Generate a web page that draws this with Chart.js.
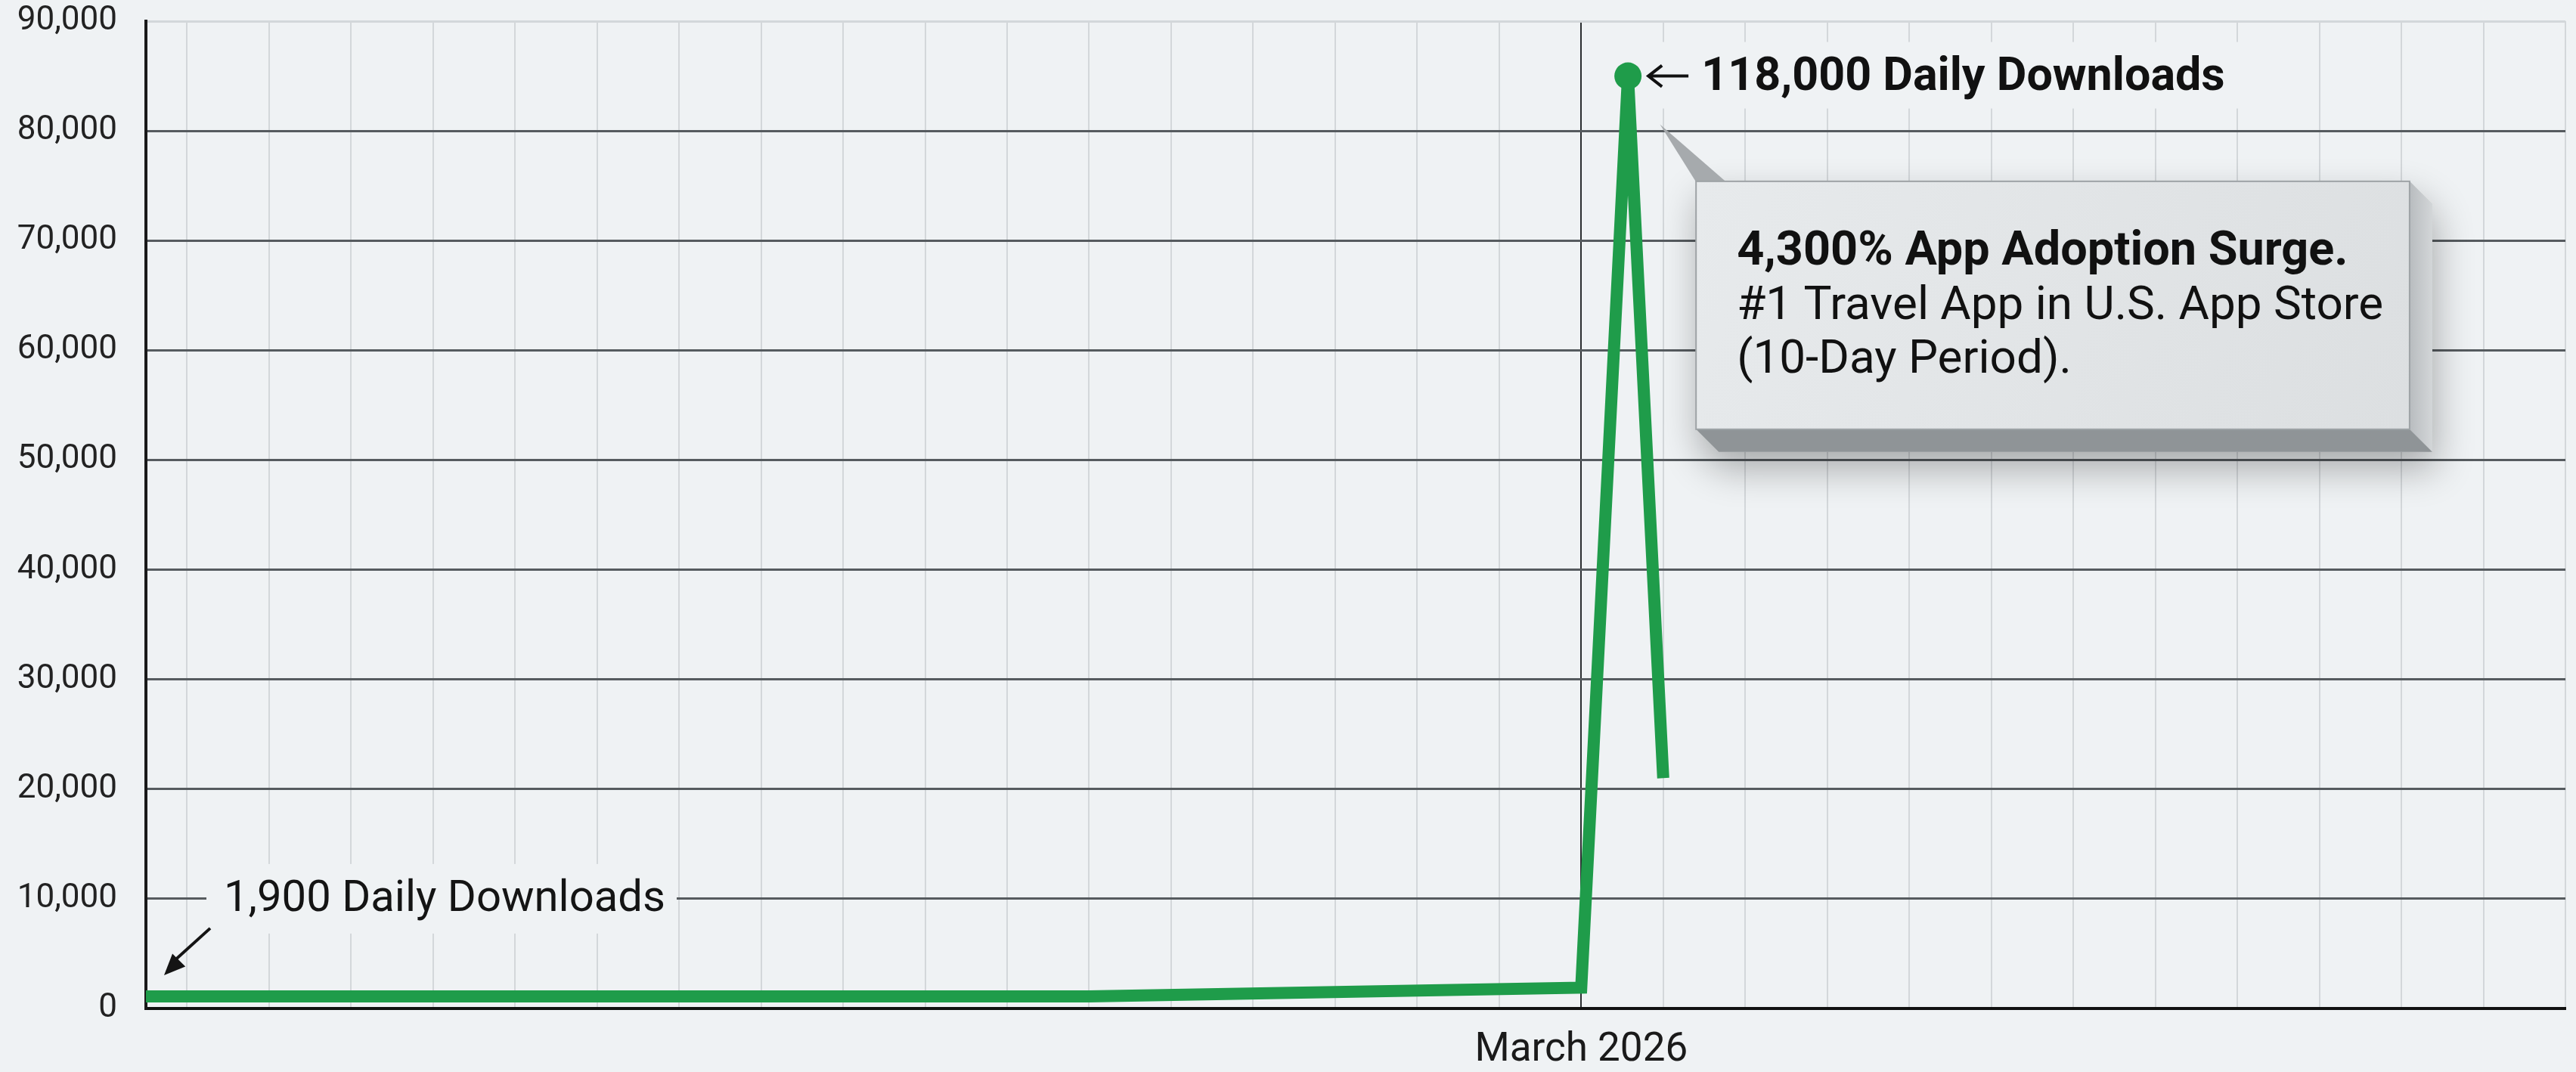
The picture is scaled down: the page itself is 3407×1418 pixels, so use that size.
<!DOCTYPE html>
<html>
<head>
<meta charset="utf-8">
<title>Daily Downloads</title>
<script src="https://cdn.jsdelivr.net/npm/chart.js@4.4.1/dist/chart.umd.min.js"></script>
<style>
  html, body { margin: 0; padding: 0; background: #eff2f4; }
  canvas { display: block; }
</style>
</head>
<body>
<canvas id="downloadsChart" width="3407" height="1418"></canvas>
<script>
// x = days relative to 1 March 2026
var dayOffsets = [-17.5, -6, 0, 0.57, 1];
var dailyDownloads = [1100, 1100, 1900, 85000, 21000];

var gridDays = [-17, -16, -15, -14, -13, -12, -11, -10, -9, -8, -7, -6, -5, -4, -3, -2, -1,
                0, 1, 2, 3, 4, 5, 6, 7, 8, 9, 10, 11, 12];
var yTicks = [0, 10000, 20000, 30000, 40000, 50000, 60000, 70000, 80000, 90000];

var marchLabel = 'March 2026';
var lowLabel = '1,900 Daily Downloads';
var peakLabel = '118,000 Daily Downloads';
var calloutLines = ['4,300% App Adoption Surge.', '#1 Travel App in U.S. App Store', '(10-Day Period).'];

var green = '#1f9c4a';
var bg = '#eff2f4';

Chart.defaults.font.family = 'Roboto, "Open Sans", sans-serif';
Chart.defaults.color = '#222';

function arrowHead(ctx, tipX, tipY, fromX, fromY, len, half) {
    var ang = Math.atan2(tipY - fromY, tipX - fromX);
    ctx.beginPath();
    ctx.moveTo(tipX, tipY);
    ctx.lineTo(tipX - len * Math.cos(ang) + half * Math.sin(ang), tipY - len * Math.sin(ang) - half * Math.cos(ang));
    ctx.lineTo(tipX - len * Math.cos(ang) - half * Math.sin(ang), tipY - len * Math.sin(ang) + half * Math.cos(ang));
    ctx.closePath();
    ctx.fill();
}

var annotations = {
    id: 'annotations',
    afterDatasetsDraw: function(chart) {
        var ctx = chart.ctx;
        var xs = chart.scales.x, ys = chart.scales.y;
        var area = chart.chartArea;
        ctx.save();

        // low label on the 10,000 line
        var yTen = ys.getPixelForValue(10000);
        var yZero = ys.getPixelForValue(0);
        ctx.fillStyle = bg;
        ctx.fillRect(area.left + 80, yTen - 46, 622, 92);
        ctx.fillStyle = '#141414';
        ctx.font = '58px Roboto';
        ctx.textBaseline = 'middle';
        ctx.fillText(lowLabel, area.left + 103, yTen + 2);
        ctx.strokeStyle = '#141414';
        ctx.lineWidth = 4;
        ctx.beginPath();
        ctx.moveTo(area.left + 85, yTen + 39);
        ctx.lineTo(area.left + 34, yZero - 60);
        ctx.stroke();
        arrowHead(ctx, area.left + 24, yZero - 44, area.left + 85, yTen + 39, 28, 12);

        // peak label
        var peak = chart.getDatasetMeta(0).data[3];
        ctx.fillStyle = bg;
        ctx.fillRect(peak.x + 22, peak.y - 45, 800, 88);
        ctx.fillStyle = '#111';
        ctx.font = 'bold 61px Roboto';
        ctx.fillText(peakLabel, peak.x + 97, peak.y + 3);
        ctx.strokeStyle = '#111';
        ctx.lineWidth = 4;
        ctx.beginPath();
        ctx.moveTo(peak.x + 80, peak.y);
        ctx.lineTo(peak.x + 27, peak.y);
        ctx.moveTo(peak.x + 45, peak.y - 14);
        ctx.lineTo(peak.x + 27, peak.y);
        ctx.lineTo(peak.x + 45, peak.y + 14);
        ctx.stroke();

        // callout box
        var bx0 = xs.getPixelForValue(1.4), bx1 = xs.getPixelForValue(10.1);
        var by0 = ys.getPixelForValue(75400), by1 = ys.getPixelForValue(52800);
        var d = 30;
        var tipX = xs.getPixelForValue(0.96), tipY = ys.getPixelForValue(80600);

        ctx.save();
        ctx.shadowColor = 'rgba(0,0,0,0.3)';
        ctx.shadowBlur = 50;
        ctx.shadowOffsetY = 22;
        ctx.shadowOffsetX = 4;
        ctx.fillStyle = '#c9cdd0';
        ctx.beginPath();
        ctx.moveTo(bx0, by0);
        ctx.lineTo(bx1, by0);
        ctx.lineTo(bx1 + d, by0 + d);
        ctx.lineTo(bx1 + d, by1 + d);
        ctx.lineTo(bx0 + d, by1 + d);
        ctx.lineTo(bx0, by1);
        ctx.closePath();
        ctx.fill();
        ctx.restore();

        // pointer
        ctx.fillStyle = '#a6aaad';
        ctx.beginPath();
        ctx.moveTo(tipX, tipY);
        ctx.lineTo(bx0 + 40, by0 + 1);
        ctx.lineTo(bx0, by0 + 1);
        ctx.closePath();
        ctx.fill();

        // side face
        var sg = ctx.createLinearGradient(bx1, 0, bx1 + d, 0);
        sg.addColorStop(0, '#b8bcbf');
        sg.addColorStop(1, '#d3d6d8');
        ctx.fillStyle = sg;
        ctx.beginPath();
        ctx.moveTo(bx1, by0);
        ctx.lineTo(bx1 + d, by0 + d);
        ctx.lineTo(bx1 + d, by1 + d);
        ctx.lineTo(bx1, by1);
        ctx.closePath();
        ctx.fill();

        // bottom face
        ctx.fillStyle = '#8f9497';
        ctx.beginPath();
        ctx.moveTo(bx0, by1);
        ctx.lineTo(bx1, by1);
        ctx.lineTo(bx1 + d, by1 + d);
        ctx.lineTo(bx0 + d, by1 + d);
        ctx.closePath();
        ctx.fill();

        // front face
        var fg = ctx.createLinearGradient(bx0, by0, bx1, by1);
        fg.addColorStop(0, '#e7eaec');
        fg.addColorStop(1, '#dcdfe1');
        ctx.fillStyle = fg;
        ctx.fillRect(bx0, by0, bx1 - bx0, by1 - by0);
        ctx.strokeStyle = '#9ea3a6';
        ctx.lineWidth = 2;
        ctx.strokeRect(bx0, by0, bx1 - bx0, by1 - by0);

        ctx.fillStyle = '#111';
        ctx.textBaseline = 'alphabetic';
        ctx.font = 'bold 63px Roboto';
        ctx.fillText(calloutLines[0], bx0 + 54, by0 + 110);
        ctx.font = '62px Roboto';
        ctx.fillText(calloutLines[1], bx0 + 54, by0 + 182);
        ctx.fillText(calloutLines[2], bx0 + 54, by0 + 253);

        ctx.restore();
    }
};

var ctx = document.getElementById('downloadsChart').getContext('2d');

var downloadsData = {
    label: 'Daily Downloads',
    data: dayOffsets.map(function(d, i) { return { x: d, y: dailyDownloads[i] }; }),
    borderColor: green,
    backgroundColor: green,
    borderWidth: 16,
    borderJoinStyle: 'miter',
    borderCapStyle: 'butt',
    tension: 0,
    pointRadius: [0, 0, 0, 18, 0],
    pointBorderWidth: 0,
    pointBackgroundColor: green
};

var chart = new Chart(ctx, {
    type: 'line',
    data: { datasets: [downloadsData] },
    options: {
        responsive: false,
        devicePixelRatio: 1,
        animation: false,
        layout: { padding: { top: 28, right: 14, left: 0, bottom: 0 } },
        plugins: { legend: { display: false }, tooltip: { enabled: false } },
        scales: {
            x: {
                type: 'linear',
                min: -17.5,
                max: 12,
                afterBuildTicks: function(scale) {
                    scale.ticks = gridDays.map(function(v) { return { value: v }; });
                },
                afterFit: function(scale) {
                    scale.height = 84;
                    scale.paddingLeft = 0;
                    scale.paddingRight = 0;
                },
                grid: {
                    color: function(c) { return c.tick && c.tick.value === 0 ? '#2a2d30' : '#d3d7da'; },
                    lineWidth: 2,
                    drawTicks: false
                },
                border: { color: '#111', width: 4 },
                ticks: {
                    autoSkip: false,
                    maxRotation: 0,
                    padding: 24,
                    color: '#1a1a1a',
                    font: { size: 53 },
                    callback: function(v) { return v === 0 ? marchLabel : ''; }
                }
            },
            y: {
                min: 0,
                max: 90000,
                afterBuildTicks: function(scale) {
                    scale.ticks = yTicks.map(function(v) { return { value: v }; });
                },
                afterFit: function(scale) {
                    scale.width = 193;
                    scale.paddingTop = 0;
                    scale.paddingBottom = 0;
                },
                grid: {
                    color: function(c) { return c.tick && c.tick.value === 90000 ? '#d3d7da' : '#565b5f'; },
                    lineWidth: 3,
                    drawTicks: false
                },
                border: { color: '#1a1a1a', width: 4 },
                ticks: {
                    padding: 38,
                    color: '#222',
                    font: { size: 44 },
                    callback: function(v) { return v.toLocaleString('en-US'); }
                }
            }
        }
    },
    plugins: [annotations]
});
</script>
</body>
</html>
